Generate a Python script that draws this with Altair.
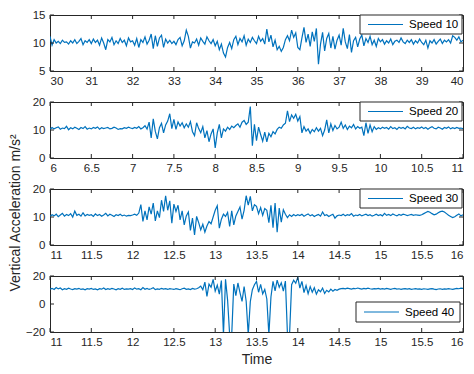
import altair as alt
import pandas as pd
import numpy as np

FONT = "Liberation Sans"
LINE_COLOR = "#0072BD"
AX_COLOR = "#262626"

# ---------------- data ----------------
speed10_range = [30.0, 40.0]
speed10 = [
    11.2, 9.6, 10.6, 10.0, 10.3, 9.9, 10.5, 10.1, 10.2, 9.8, 10.4, 10.0, 10.6, 9.9, 10.3, 10.8, 9.7, 10.4, 10.1, 10.6,
    9.9, 10.7, 10.1, 10.5, 9.6, 10.9, 10.0, 8.8, 10.6, 10.2, 11.0, 9.7, 10.4, 9.9, 10.8, 10.1, 10.5, 9.5, 10.9, 10.2,
    10.4, 9.6, 10.8, 9.2, 10.6, 10.1, 11.1, 9.8, 10.5, 11.6, 9.0, 11.3, 9.4, 10.9, 11.4, 9.2, 10.7, 10.0, 10.5, 9.9,
    10.3, 9.7, 10.6, 11.0, 9.5, 10.4, 12.3, 11.2, 9.1, 10.2, 10.0, 10.7, 9.6, 10.9, 10.3, 9.8, 11.1, 10.4, 9.9, 10.6,
    9.5, 10.3, 8.8, 9.8, 8.2, 7.5, 9.2, 10.1, 9.0, 10.6, 11.2, 9.7, 10.8, 10.2, 11.3, 9.6, 10.7, 10.1, 11.0, 10.4,
    9.9, 11.2, 10.3, 10.8, 9.8, 12.5, 10.2, 11.4, 9.3, 10.5, 8.8, 9.4, 8.5, 9.2, 10.6, 11.3, 10.4, 12.3, 11.0, 11.8,
    9.2, 8.8, 10.9, 12.8, 10.1, 11.6, 9.4, 12.0, 10.3, 12.6, 6.2, 9.8, 11.9, 8.6, 10.8, 11.7, 9.1, 11.2, 8.9, 10.5,
    11.4, 9.6, 12.6, 10.2, 9.0, 11.5, 8.3, 10.4, 11.0, 9.3, 10.7, 11.4, 9.5, 10.8, 10.1, 11.2, 9.7, 10.5, 9.4, 10.8,
    10.2, 10.6, 9.8, 10.4, 10.0, 10.7, 9.7, 10.3, 10.5, 10.1, 10.9, 10.2, 9.9, 10.5, 10.1, 10.6, 9.8, 10.4, 10.0, 10.7,
    10.1, 9.7, 10.5, 9.1, 10.4, 10.0, 10.6, 9.8, 10.3, 10.7, 9.9, 10.5, 10.2, 10.6, 10.0, 11.3, 11.0, 10.5, 11.1, 10.2,
    10.5,
]

speed20_range = [6.0, 11.0]
speed20 = [
    10.2, 10.9, 10.4, 10.8, 11.1, 10.3, 10.7, 10.5, 11.3, 10.1, 10.8, 10.4, 11.0, 10.6, 10.2, 10.9, 10.5, 11.2, 10.3, 10.7,
    10.4, 10.9, 10.6, 11.1, 10.3, 10.8, 10.5, 10.7, 10.9, 10.4, 10.6, 11.0, 10.7, 10.2, 10.5, 10.4, 10.8, 10.6, 11.0, 10.7,
    10.5, 10.9, 10.6, 11.2, 10.4, 10.8, 11.5, 10.3, 12.8, 7.2, 14.0, 9.5, 6.8, 10.8, 12.4, 9.0, 11.8, 13.2, 15.8, 10.5,
    13.8, 10.2, 12.9, 11.4, 12.6, 10.8, 12.2, 11.0, 13.0, 9.4, 8.0, 12.6, 10.5, 9.0, 11.2, 7.2, 9.8, 5.8, 8.6, 10.4,
    3.6, 9.0, 12.0, 7.2, 10.4, 9.6, 11.0, 10.2, 11.4, 10.8, 11.6, 12.2, 11.0, 12.8, 13.4, 12.0, 12.8, 18.4, 4.4, 12.0,
    6.2, 11.0, 8.4, 6.0, 9.2, 5.8, 8.8, 7.6, 9.4, 8.6, 10.2, 11.0, 10.6, 11.8, 12.4, 16.8, 13.0, 15.4, 14.2, 15.6,
    13.2, 14.8, 9.0, 11.2, 9.6, 10.4, 8.8, 10.2, 9.4, 10.8, 9.6, 10.6, 8.0, 10.0, 13.6, 9.0, 12.2, 9.8, 11.6, 10.4,
    11.0, 12.8, 10.6, 11.8, 10.2, 11.4, 10.8, 12.0, 10.4, 11.2, 10.6, 11.0, 8.0, 12.6, 8.8, 11.8, 9.4, 11.2, 10.2, 10.8,
    10.4, 11.0, 10.6, 10.9, 10.3, 11.2, 10.5, 10.8, 10.2, 11.0, 10.6, 10.9, 10.4, 11.3, 10.7, 10.5, 11.0, 10.4, 10.8, 10.6,
    11.1, 10.5, 10.9, 10.3, 10.8, 11.2, 10.6, 10.4, 11.0, 10.7, 10.3, 10.9, 10.6, 11.1, 10.4, 10.8, 10.5, 10.9, 10.6, 10.7,
    10.5,
]

speed30_range = [11.0, 16.0]
speed30 = [
    10.2, 10.8, 10.4, 11.0, 10.1, 10.7, 11.3, 10.3, 10.9, 10.5, 11.2, 10.0, 12.1, 10.6, 11.0, 10.3, 11.5, 10.4, 10.9, 10.6,
    10.8, 10.2, 11.1, 10.5, 10.9, 10.3, 10.7, 11.3, 10.4, 11.0, 10.6, 10.2, 10.8, 10.5, 11.0, 10.4, 10.7, 10.3, 10.6, 10.5,
    10.7, 11.0, 10.6, 11.4, 14.4, 8.4, 12.2, 9.0, 13.6, 11.0, 15.0, 8.6, 12.2, 9.8, 16.0, 12.0, 17.6, 12.4, 15.8, 7.8,
    14.6, 12.0, 14.2, 9.0, 12.2, 7.2, 10.4, 11.8, 5.2, 9.6, 3.6, 10.2, 8.0, 5.4, 7.4, 4.6, 6.8, 8.4, 7.6, 10.0,
    12.4, 14.0, 6.0, 9.2, 11.0, 10.2, 11.6, 6.6, 12.2, 7.2, 10.4, 12.0, 13.6, 9.2, 12.4, 17.6, 14.2, 17.4, 12.2, 14.4,
    13.8, 11.2, 13.4, 10.6, 13.0, 12.4, 8.0, 14.2, 6.2, 15.0, 4.6, 13.2, 8.2, 12.6, 11.0, 9.8, 10.8, 10.2, 10.9, 10.4,
    10.8, 10.5, 11.0, 10.3, 10.7, 11.1, 10.4, 10.8, 10.2, 10.6, 10.9, 10.3, 11.8, 10.5, 10.8, 10.2, 10.6, 11.0, 9.6, 10.4,
    10.7, 10.5, 11.0, 10.4, 10.8, 10.6, 11.2, 10.3, 10.7, 10.5, 10.9, 10.4, 10.7, 11.0, 10.5, 10.8, 10.3, 10.6, 11.0, 10.5,
    10.8, 10.4, 11.3, 10.6, 10.9, 10.5, 11.1, 10.7, 10.4, 10.9, 10.6, 11.0, 10.8, 10.5, 10.7, 10.9, 10.6, 10.8, 10.7, 10.6,
    10.8, 11.2, 11.6, 12.0, 11.7, 11.2, 10.8, 11.0, 11.5, 11.9, 12.1, 11.8, 11.2, 10.6, 10.2, 9.8, 10.1, 10.6, 11.1, 10.4,
    10.8,
]

speed40_range = [11.0, 16.0]
speed40 = [
    10.6, 11.2, 10.4, 11.8, 10.8, 11.4, 10.2, 10.9, 10.5, 11.3, 10.7, 10.3, 11.0, 10.6, 11.2, 10.4, 10.8, 10.2, 10.9, 10.6,
    11.1, 10.4, 10.8, 10.2, 11.0, 10.6, 11.4, 10.3, 10.9, 10.5, 11.2, 10.7, 10.1, 10.9, 10.5, 11.3, 10.4, 10.8, 10.6, 11.0,
    10.3, 11.5, 10.6, 11.0, 10.2, 11.8, 10.5, 11.1, 10.4, 10.9, 11.6, 10.3, 10.8, 10.5, 11.2, 10.6, 10.9, 10.4, 11.0, 10.7,
    10.4, 11.0, 10.6, 10.2, 10.9, 11.3, 10.5, 10.8, 10.3, 11.1, 10.6, 10.9, 11.6, 12.8, 10.2, 15.6, 5.4, 14.2, 12.0, 17.6,
    9.2, 13.4, 7.0, 16.8, -22.0, 17.6, 2.8, -22.0, -22.0, 14.2, 6.0, 15.0, 8.2, 1.8, 12.4, 2.0, -22.0, 1.6, 10.2, 13.8,
    16.2, 8.4, 14.0, 7.2, 10.4, 3.6, -22.0, 5.0, 16.2, 9.4, 17.0, 12.0, 15.2, 9.2, 16.4, -22.0, -22.0, 13.8, 17.0, 14.8,
    19.0, 11.4, 16.2, 8.2, 13.2, 7.4, 12.4, 8.4, 11.6, 7.0, 10.2, 8.8, 11.4, 7.6, 9.8, 8.6, 10.6, 9.2, 10.4, 9.8,
    10.6, 11.0, 11.2, 10.8, 11.3, 11.0, 10.7, 11.2, 10.9, 11.4, 11.0, 10.6, 11.1, 10.8, 11.3, 10.9, 10.6, 11.0, 10.8, 11.2,
    10.7, 11.0, 10.6, 11.1, 10.8, 10.5, 10.9, 11.2, 10.7, 10.9, 10.5, 10.8, 11.0, 10.6, 10.9, 10.4, 10.7, 11.0, 10.6, 10.8,
    10.5, 10.9, 10.7, 10.4, 10.8, 11.0, 10.6, 10.3, 10.7, 10.9, 10.5, 10.8, 10.6, 11.0, 10.7, 10.4, 10.8, 11.1, 10.9, 11.3,
    11.2,
]

labels = ["Speed 10", "Speed 20", "Speed 30", "Speed 40"]
x_ticks_1 = [30, 31, 32, 33, 34, 35, 36, 37, 38, 39, 40]
x_ticks_2 = [6, 6.5, 7, 7.5, 8, 8.5, 9, 9.5, 10, 10.5, 11]
x_ticks_34 = [11, 11.5, 12, 12.5, 13, 13.5, 14, 14.5, 15, 15.5, 16]
y_ticks = [[5, 10, 15], [0, 10, 20], [0, 10, 20], [-20, 0, 20]]
x_title = "Time"
y_title = "Vertical Acceleration m/s\u00b2"

series = [speed10, speed20, speed30, speed40]
ranges = [speed10_range, speed20_range, speed30_range, speed40_range]
x_ticks = [x_ticks_1, x_ticks_2, x_ticks_34, x_ticks_34]

# ---------------- layout ----------------
W, H = 413, 56
TICK = 4
# legend boxes (x0, x1, y0, y1) in panel pixels
legend_boxes = [(310, 412, 0, 19), (310, 412, 0, 19), (310, 412, 0, 19), (306, 410, 26, 46)]


def make_panel(i):
    vals = series[i]
    lo, hi = ranges[i]
    n = len(vals)
    t = np.round(lo + np.arange(n) * (hi - lo) / (n - 1), 4)
    df = pd.DataFrame({"t": t, "v": vals})
    xs = alt.Scale(domain=[lo, hi], nice=False, zero=False)
    yt = y_ticks[i]
    ys = alt.Scale(domain=[yt[0], yt[-1]], nice=False, zero=False)
    last = i == 3

    xaxis_kwargs = dict(values=x_ticks[i], format="~g", labelPadding=4)
    if last:
        xaxis_kwargs.update(title=x_title, titlePadding=5)
    else:
        xaxis_kwargs.update(title=None)
    x_enc = alt.X("t:Q", scale=xs, axis=alt.Axis(**xaxis_kwargs))
    y_enc = alt.Y("v:Q", scale=ys, axis=alt.Axis(values=yt, title=None, labelPadding=5))

    line = alt.Chart(df).mark_line(color=LINE_COLOR, strokeWidth=1.2, clip=True).encode(
        x=x_enc, y=y_enc)

    xt = pd.DataFrame({"t": x_ticks[i]})
    ytd = pd.DataFrame({"v": yt})
    tick_top = alt.Chart(xt).mark_rule(color=AX_COLOR, strokeWidth=1).encode(
        x=x_enc, y=alt.value(0), y2=alt.value(TICK))
    tick_bot = alt.Chart(xt).mark_rule(color=AX_COLOR, strokeWidth=1).encode(
        x=x_enc, y=alt.value(H - TICK), y2=alt.value(H))
    tick_left = alt.Chart(ytd).mark_rule(color=AX_COLOR, strokeWidth=1).encode(
        y=y_enc, x=alt.value(0), x2=alt.value(TICK))
    tick_right = alt.Chart(ytd).mark_rule(color=AX_COLOR, strokeWidth=1).encode(
        y=y_enc, x=alt.value(W - TICK), x2=alt.value(W))

    x0, x1, y0, y1 = legend_boxes[i]
    ym = (y0 + y1) / 2
    ldf = pd.DataFrame({"label": [labels[i]]})
    box = alt.Chart(ldf).mark_rect(fill="white", stroke=AX_COLOR, strokeWidth=1).encode(
        x=alt.value(x0), x2=alt.value(x1), y=alt.value(y0), y2=alt.value(y1))
    sample = alt.Chart(ldf).mark_rule(color=LINE_COLOR, strokeWidth=1).encode(
        x=alt.value(x0 + 8), x2=alt.value(x0 + 43), y=alt.value(ym))
    ltext = alt.Chart(ldf).mark_text(align="left", baseline="middle", font=FONT,
                                     fontSize=11.5, color="black").encode(
        x=alt.value(x0 + 49), y=alt.value(ym + 0.5), text="label:N")

    layers = [line, tick_top, tick_bot, tick_left, tick_right, box, sample, ltext]
    if i == 2:
        tdf = pd.DataFrame({"title": [y_title]})
        ytitle = alt.Chart(tdf).mark_text(angle=270, align="center", baseline="middle",
                                          font=FONT, fontSize=14, color=AX_COLOR).encode(
            x=alt.value(-34), y=alt.value(24), text="title:N")
        layers.append(ytitle)
    return alt.layer(*layers).properties(width=W, height=H)


chart = alt.vconcat(*[make_panel(i) for i in range(4)], spacing=31, bounds="flush").properties(
    padding={"left": 0, "top": 0, "right": 0, "bottom": 0}
).configure_view(stroke=AX_COLOR, strokeWidth=1).configure_axis(
    labelFont=FONT, labelFontSize=11.5, labelColor=AX_COLOR,
    titleFont=FONT, titleFontSize=14, titleColor=AX_COLOR, titleFontWeight="normal",
    ticks=False, domain=False, grid=False,
).configure_scale(continuousPadding=0)

chart.save("out.html", embed_options={"renderer": "svg", "actions": False})
